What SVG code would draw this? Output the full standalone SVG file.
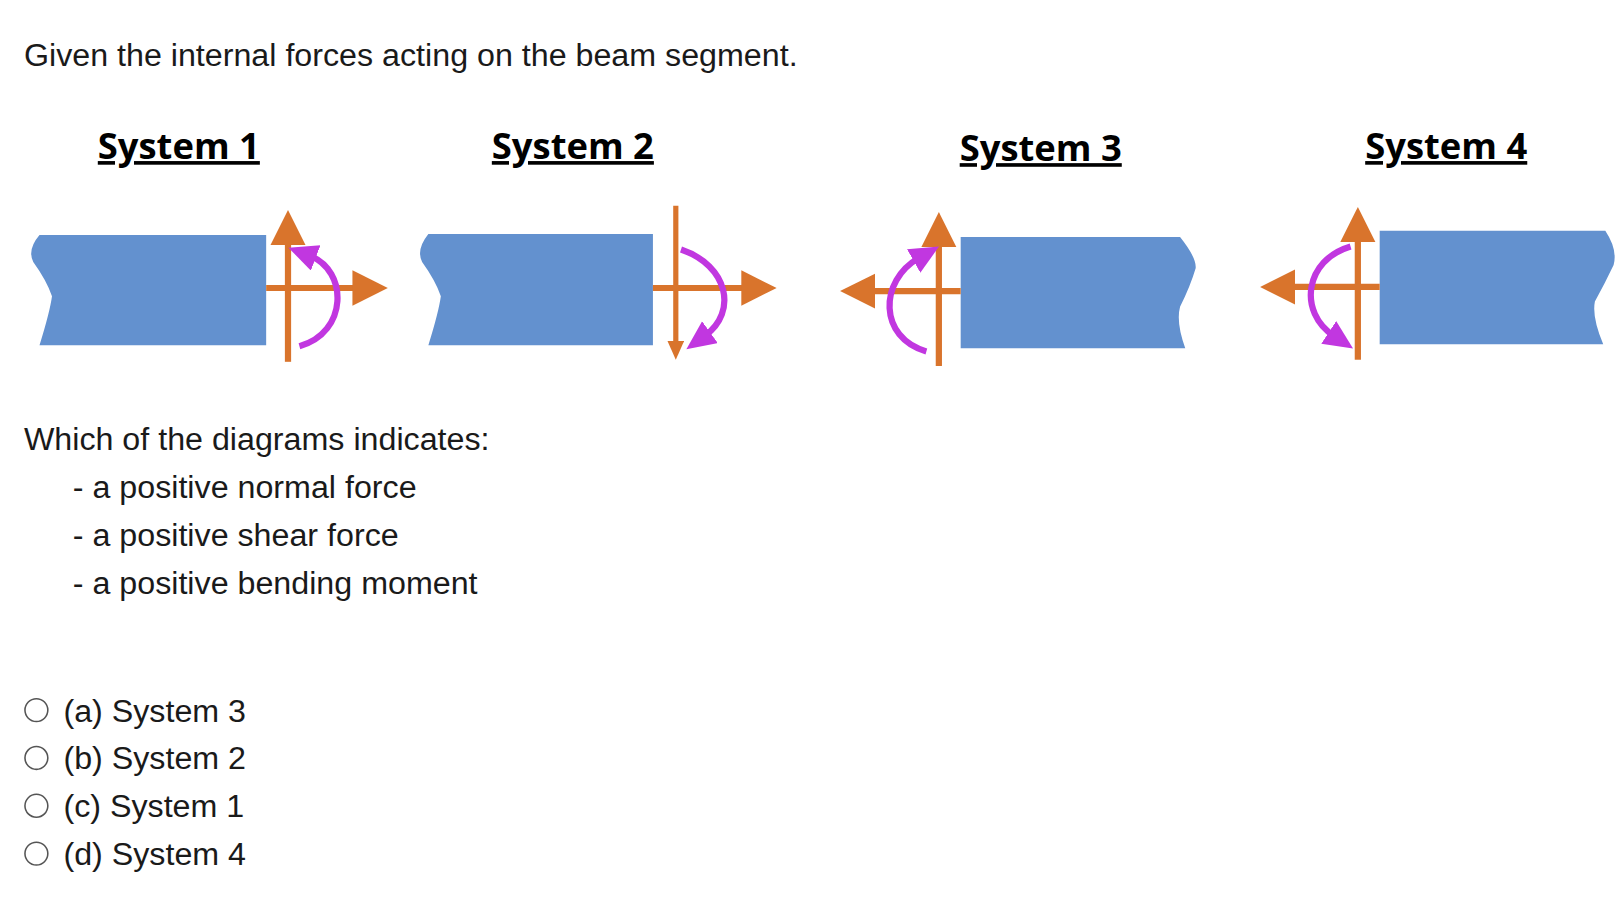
<svg xmlns="http://www.w3.org/2000/svg" width="1622" height="898" viewBox="0 0 1622 898">
<style>
text{font-family:"Liberation Sans",Arial,sans-serif;fill:#1a1a1a}
.t{font-size:31px}
.h{font-family:"Open Sans","Liberation Sans",sans-serif;font-size:35px;font-weight:bold;text-decoration:underline;text-anchor:middle;fill:#000}
.beam{fill:#6391cf}
.f{stroke:#d9742c;stroke-width:6;fill:none}
.m{stroke:#c137e0;stroke-width:6;fill:none}
.r{fill:#fff;stroke:#555;stroke-width:1.5}
</style>
<defs>
<marker id="oa" markerUnits="userSpaceOnUse" markerWidth="40" markerHeight="40" refX="4" refY="17" orient="auto"><path d="M0,0 L34,17 L0,34 Z" fill="#d9742c"/></marker>
<marker id="os" markerUnits="userSpaceOnUse" markerWidth="30" markerHeight="30" refX="2" refY="8" orient="auto"><path d="M0,0 L18,8 L0,16 Z" fill="#d9742c"/></marker>
<marker id="ma" markerUnits="userSpaceOnUse" markerWidth="40" markerHeight="40" refX="6" refY="13" orient="auto"><path d="M0,0 L28,13 L0,26 Z" fill="#c137e0"/></marker>
</defs>
<rect width="1622" height="898" fill="#fff"/>
<g transform="scale(1.0397)">
<text class="t" x="23" y="63">Given the internal forces acting on the beam segment.</text>
<text class="h" x="172" y="153">System 1</text>
<text class="h" x="551" y="153">System 2</text>
<text class="h" x="1001" y="155">System 3</text>
<text class="h" x="1391" y="153">System 4</text>
<g id="sys1">
<path class="beam" d="M38,226 L256,226 L256,332 L38,332 Q48,300 50,285 Q45,270 32,252 Q26,240 38,226 Z"/>
<g class="connectors">
<path class="f" d="M277,348 L277,232" marker-end="url(#oa)"/>
<path class="f" d="M256,277 L343,277" marker-end="url(#oa)"/>
<path class="m" d="M288,333 C335,320 335,260 298,246" marker-end="url(#ma)"/>
</g>
</g>
<g id="sys2">
<path class="beam" d="M412,225 L628,225 L628,332 L412,332 Q422,300 424,285 Q419,270 406,252 Q400,240 412,225 Z"/>
<g class="connectors">
<path class="f" d="M650,198 L650,330" marker-end="url(#os)" style="stroke-width:5"/>
<path class="f" d="M628,277 L717,277" marker-end="url(#oa)"/>
<path class="m" d="M655,240 C700,255 710,300 678,323" marker-end="url(#ma)"/>
</g>
</g>
<g id="sys3">
<path class="beam" d="M924,228 L1135,228 Q1151,248 1150,258 Q1145,275 1135,295 Q1131,310 1140,335 L924,335 Z"/>
<g class="connectors">
<path class="f" d="M903,352 L903,234" marker-end="url(#oa)"/>
<path class="f" d="M924,280 L838,280" marker-end="url(#oa)"/>
<path class="m" d="M891,338 C845,325 845,270 884,248" marker-end="url(#ma)"/>
</g>
</g>
<g id="sys4">
<path class="beam" d="M1327,222 L1544,222 Q1556,240 1552,255 Q1544,272 1534,290 Q1531,305 1542,331 L1327,331 Z"/>
<g class="connectors">
<path class="f" d="M1306,346 L1306,229" marker-end="url(#oa)"/>
<path class="f" d="M1327,276 L1242,276" marker-end="url(#oa)"/>
<path class="m" d="M1299,237 C1255,250 1248,300 1283,323" marker-end="url(#ma)"/>
</g>
</g>
<text class="t" x="23" y="433">Which of the diagrams indicates:</text>
<text class="t" x="70" y="479">- a positive normal force</text>
<text class="t" x="70" y="525">- a positive shear force</text>
<text class="t" x="70" y="571">- a positive bending moment</text>
<circle class="r" cx="35" cy="683" r="11"/>
<circle class="r" cx="35" cy="729" r="11"/>
<circle class="r" cx="35" cy="775" r="11"/>
<circle class="r" cx="35" cy="821" r="11"/>
<text class="t" x="61" y="694">(a) System 3</text>
<text class="t" x="61" y="740">(b) System 2</text>
<text class="t" x="61" y="786">(c) System 1</text>
<text class="t" x="61" y="832">(d) System 4</text>
</g>
</svg>
